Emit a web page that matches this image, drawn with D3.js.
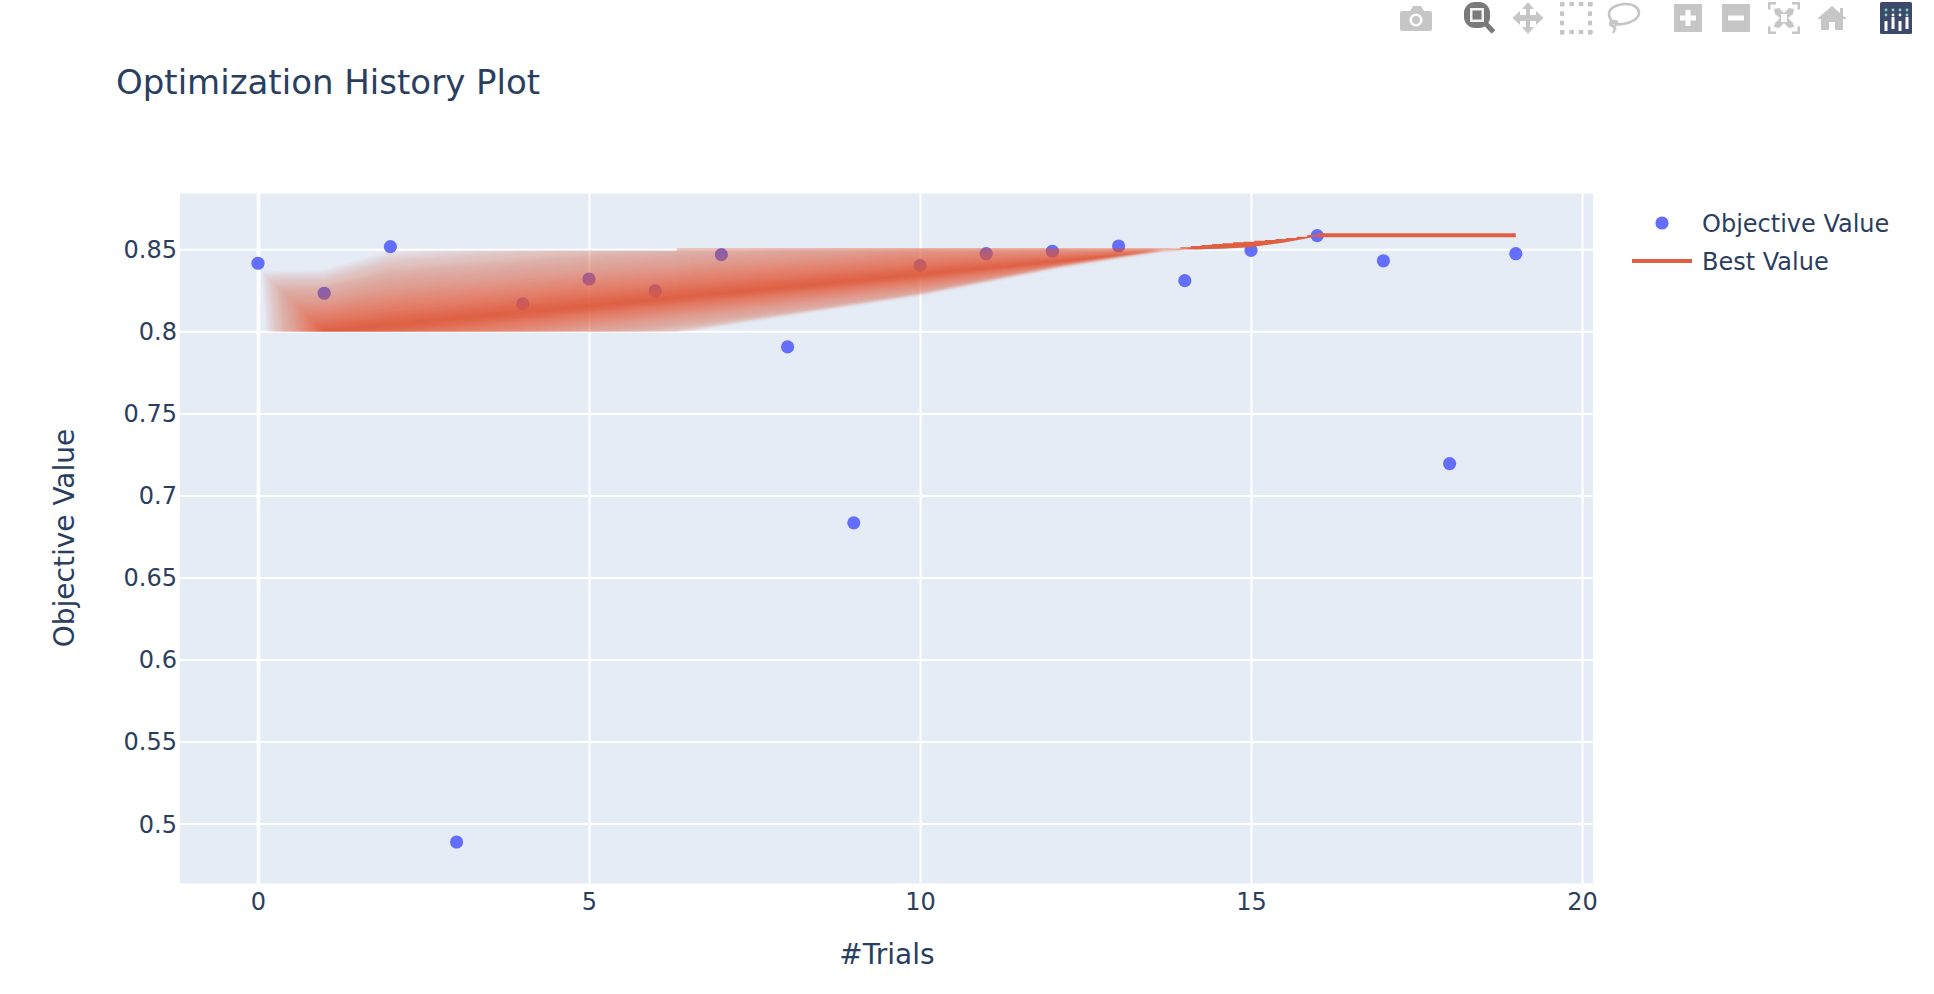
<!DOCTYPE html>
<html><head><meta charset="utf-8">
<script src="https://cdn.jsdelivr.net/npm/d3@7/dist/d3.min.js"></script>
<style>
html,body{margin:0;padding:0;background:#fff;overflow:hidden}
text{font-family:"DejaVu Sans",Verdana,sans-serif;fill:#2a3f5f}
</style></head><body><svg id="c" width="1934" height="994"></svg>
<script>
// ---- data ----
const trials = [0,1,2,3,4,5,6,7,8,9,10,11,12,13,14,15,16,17,18,19];
const objectiveValues = [.8415,.8232,.8516,.4888,.8167,.8319,.8246,.8467,.7905,.6833,.84,.8473,.8488,.852,.8309,.8493,.8583,.843,.7194,.8473];
const bestTrials = [16,17,18,19];
const bestValues = [.8585,.8585,.8585,.8585];
// smeared best-value ridge
const ridgeTrials = [1,14];
const ridgeValues = [.8,.85];
// outline of the smear (outermost envelope)
const envelopeTrials = [.11,.03,1,2,5,6.33,6.33,10,14,14.4,14,10,5,1];
const envelopeValues = [.8,.8375,.838,.85,.859,.8605,.862,.8686,.8505,.8497,.8495,.8156,.788,.76];
// soft lower edge of the smear
const edgeTrials = [6.33,10,12.07,13.7];
const edgeValues = [.7995,.8225,.839,.8495];
// stair-stepped top of the wedge between trial 14 and 16
const wedgeTopTrials = [13.93,14.09,14.25,14.41,14.57,14.73,14.89,15.05,15.21,15.37,15.53,15.69,15.85,16];
const wedgeTopValues = [.8512,.852,.8526,.8532,.8537,.8543,.8546,.8552,.8557,.8563,.8569,.8577,.8587,.8597];
const wedgeBottomTrials = [16,15.48,14.98,14.56,14.2,13.93];
const wedgeBottomValues = [.8578,.854,.8512,.8504,.85,.8505];
const xTicks = [0,5,10,15,20];
const xTickLabels = ["0","5","10","15","20"];
const yTicks = [.5,.55,.6,.65,.7,.75,.8,.85];
const yTickLabels = ["0.5","0.55","0.6","0.65","0.7","0.75","0.8","0.85"];
const titleText = "Optimization History Plot";
const xTitle = "#Trials", yTitle = "Objective Value";
const legendLabels = ["Objective Value","Best Value"];

// ---- layout ----
const L=180,R=1593,T=193.5,B=883.5;
const BLUE="#636efa",RED="#e05f42",BG="#e5ecf6",INK="#2a3f5f";
const x=d3.scaleLinear().domain([-1.178,20.166]).range([L,R]);
const y=d3.scaleLinear().domain([.4635,.884]).range([B,T]);
const svg=d3.select("#c");
const defs=svg.append("defs");

svg.append("rect").attr("x",L).attr("y",T).attr("width",R-L).attr("height",B-T).attr("fill",BG);
// grid
const gx=svg.append("g").attr("transform",`translate(0,${B})`)
  .call(d3.axisBottom(x).tickValues(xTicks).tickFormat((d,i)=>xTickLabels[i]).tickSize(T-B).tickPadding(9));
const gy=svg.append("g").attr("transform",`translate(${L},0)`)
  .call(d3.axisLeft(y).tickValues(yTicks).tickFormat((d,i)=>yTickLabels[i]).tickSize(L-R).tickPadding(3));
[gx,gy].forEach(g=>{g.select(".domain").remove();
  g.selectAll("line").attr("stroke","#fff").attr("stroke-width",2);
  g.selectAll("text").attr("font-size",24).attr("fill",INK).attr("font-family","DejaVu Sans");});
gx.selectAll("line").filter(d=>d===0).attr("stroke-width",3.7);
gy.selectAll("text").attr("dy","0.35em");

// dots sit beneath the smear
svg.append("g").selectAll("circle").data(trials).join("circle")
  .attr("cx",d=>x(d)).attr("cy",(d,i)=>y(objectiveValues[i])).attr("r",6.6).attr("fill",BLUE);

// ---- smear: nested envelopes shrinking on to the ridge ----
const ridge=d3.scaleLinear().domain(ridgeTrials).range(ridgeValues).clamp(true);
const clipTop=defs.append("clipPath").attr("id","bandClip");
clipTop.append("path").attr("d",d3.line().x(d=>x(d[0])).y(d=>y(d[1]))([
  [-1,.8493],[6.33,.8493],[6.33,.8506],[15,.8506],[15,.7998],[-1,.7998]])+"Z");
const soft=defs.append("filter").attr("id","softF").attr("filterUnits","userSpaceOnUse")
  .attr("x",0).attr("y",0).attr("width",1934).attr("height",994);
soft.append("feGaussianBlur").attr("stdDeviation",1.4);
const mask=defs.append("mask").attr("id","bandMask").attr("maskUnits","userSpaceOnUse")
  .attr("x",0).attr("y",0).attr("width",1934).attr("height",994);
const edgePts=[[-1,.95],[-1,.7],[edgeTrials[0],.7]].concat(edgeTrials.map((t,i)=>[t,edgeValues[i]])).concat([[14.6,.8497],[14.6,.95]]);
mask.append("path").attr("d",d3.line().x(d=>x(d[0])).y(d=>y(d[1]))(edgePts)+"Z").attr("fill","#fff").attr("filter","url(#softF)");

const band=svg.append("g").attr("clip-path","url(#bandClip)").append("g").attr("mask","url(#bandMask)");
const N=70, peak=.985;
const profile=s=>peak*Math.pow(1-s,.8); // s: 1 outer .. 0 ridge
const levels=d3.range(N).map(k=>1-(k+1)/N);
let prev=0;
const layers=levels.map(s=>{const F=profile(s);const a=1-(1-F)/(1-prev);prev=F;return {s,a};});
band.selectAll("path").data(layers).join("path")
  .attr("fill",RED).attr("stroke","none").attr("fill-opacity",d=>d.a)
  .attr("d",d=>{
    const pts=envelopeTrials.map((t,i)=>{
      const at=Math.max(1,Math.min(14.4,t)), av=ridge(at);
      return [at+(t-at)*d.s, av+(envelopeValues[i]-av)*d.s];
    });
    return d3.line().x(p=>x(p[0])).y(p=>y(p[1]))(pts)+"Z";
  });

// wedge + best value line
const wedgeTop=wedgeTopTrials.map((t,i)=>[t,wedgeTopValues[i]]);
const topPath=d3.line().x(d=>x(d[0])).y(d=>y(d[1])).curve(d3.curveStepAfter)(wedgeTop);
const botPath=d3.line().x(d=>x(d[0])).y(d=>y(d[1]))(wedgeBottomTrials.map((t,i)=>[t,wedgeBottomValues[i]]));
svg.append("path").attr("d",topPath+"L"+botPath.slice(1)+"Z").attr("fill",RED);
svg.append("path").attr("fill","none").attr("stroke",RED).attr("stroke-width",4)
  .attr("d",d3.line().x(d=>x(d)).y((d,i)=>y(bestValues[i]))(bestTrials));

// titles
svg.append("text").attr("x",116).attr("y",94).attr("font-size",34).text(titleText);
svg.append("text").attr("x",887).attr("y",964).attr("text-anchor","middle").attr("font-size",28).text(xTitle);
svg.append("text").attr("transform","translate(74,538) rotate(-90)").attr("text-anchor","middle").attr("font-size",28).text(yTitle);

// legend
const lg=svg.append("g");
lg.append("circle").attr("cx",1662).attr("cy",223).attr("r",6.6).attr("fill",BLUE);
lg.append("line").attr("x1",1632).attr("x2",1692).attr("y1",261).attr("y2",261).attr("stroke",RED).attr("stroke-width",4);
legendLabels.forEach((s,i)=>lg.append("text").attr("x",1702).attr("y",[232,270][i]).attr("font-size",24).text(s));

// ---- modebar ----
const G="#c6c6c6", mb=svg.append("g");
const P=(d,f=G,extra={})=>{const p=mb.append("path").attr("d",d).attr("fill",f);for(const k in extra)p.attr(k,extra[k]);return p;};
// camera
P("M1402 11h8l3-5h8l3 5h6a2 2 0 0 1 2 2v16a2 2 0 0 1-2 2h-28a2 2 0 0 1-2-2v-16a2 2 0 0 1 2-2z");
mb.append("circle").attr("cx",1416).attr("cy",20).attr("r",6.5).attr("fill","#fff");
mb.append("circle").attr("cx",1416).attr("cy",20).attr("r",4).attr("fill",G);
// zoom (active)
mb.append("rect").attr("x",1464).attr("y",2).attr("width",26).attr("height",26).attr("rx",11).attr("fill","#7a7a7a");
mb.append("rect").attr("x",1470).attr("y",8).attr("width",14).attr("height",14).attr("fill","#fff").attr("fill-opacity",.9);
mb.append("rect").attr("x",1472.5).attr("y",10.5).attr("width",9).attr("height",9).attr("fill","#7a7a7a");
mb.append("line").attr("x1",1486).attr("y1",24).attr("x2",1493.5).attr("y2",32).attr("stroke","#7a7a7a").attr("stroke-width",5);
// pan
P("M1528 2l6 7h-4v6h6v-4l7.5 7-7.5 7v-4h-6v6h4l-6 7-6-7h4v-6h-6v4l-7.5-7 7.5-7v4h6v-6h-4z");
// box select (dotted)
d3.range(4).forEach(i=>{[0,1].forEach(j=>{
  mb.append("rect").attr("x",1560+i*9.4).attr("y",2+j*28).attr("width",4.5).attr("height",4).attr("fill",G);
  mb.append("rect").attr("x",1560+j*28).attr("y",2+i*9.4).attr("width",4).attr("height",4.5).attr("fill",G);
});});
// lasso
P("M1626 4c8 0 13 4 13 9s-7 10-16 11c-4 1-8 0-11-3-2-2-3-4-3-7 0-6 8-10 17-10z","none",{stroke:G,"stroke-width":2.6});
P("M1611 21c-2 2-1 5 2 5s5-2 4-4-4-1-5 1 2 5 3 5-1 3-2 5","none",{stroke:G,"stroke-width":2.4});
// plus / minus
P("M1674 4h28v28h-28zM1685.5 10v5.500h-5.500v5h5.500v5.500h5v-5.500h5.500v-5h-5.500v-5.500z");
P("M1722 4h28v28h-28zM1728 15.500v5h16v-5z");
// autoscale
P("M1768 2h8v2.500h-5.500v5h-2.500zM1800 2h-8v2.500h5.500v5h2.500zM1768 34h8v-2.500h-5.500v-5h-2.500zM1800 34h-8v-2.500h5.500v-5h2.500z");
P("M1774 9l5-1 5 5 5-5 5 1 -1 5-5 4 5 5 1 4-5 1-5-5-5 5-5-1 1-4 5-5-5-4z");
mb.append("path").attr("d","M1781 14h6v8h-6z").attr("fill","#fff");
// home
P("M1832 6l8 7v-5h3v8l3 2v1h-3v11h-8v-8h-6v8h-8v-11h-3v-1z");
// logo
mb.append("rect").attr("x",1880).attr("y",2).attr("width",32).attr("height",32).attr("rx",1.5).attr("fill","#3d4a6c");
[1886,1893,1900,1907].forEach((bx,i)=>{
  mb.append("circle").attr("cx",bx).attr("cy",10).attr("r",1.4).attr("fill","#7fd6c2");
  mb.append("circle").attr("cx",bx).attr("cy",15).attr("r",1.4).attr("fill",i%3?"#fff":"#7fd6c2");
  mb.append("rect").attr("x",bx-1.5).attr("y",[19,15,19,15][i]+2).attr("width",3).attr("height",[10,12,10,12][i]).attr("fill","#fff");
});
</script></body></html>
